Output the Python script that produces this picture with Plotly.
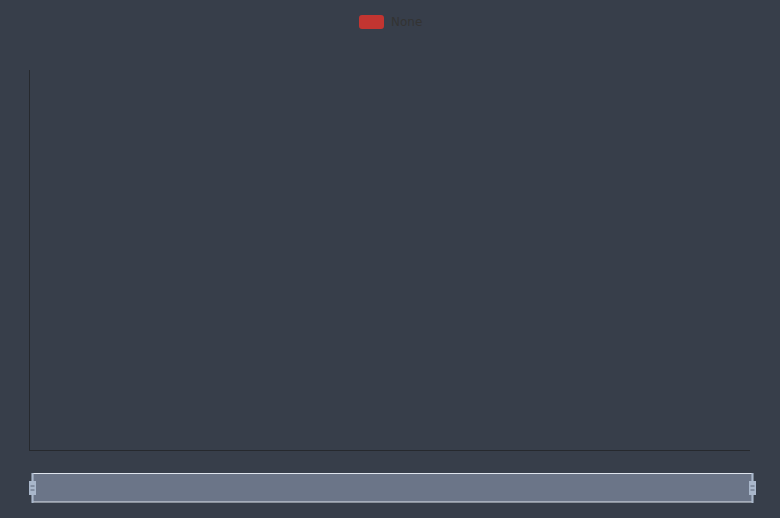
import plotly.graph_objects as go

# the series is empty in the reference: only the legend entry, axes and zoom bar show
series_name = "None"
categories = []
values = []

BG = "#373e4a"
RED = "#c23531"

W, H = 780, 518
L, R, T, B = 30, 30, 70, 68
pw, ph = W - L - R, H - T - B


def px_x(x):
    return (x - L) / pw


def px_y(y):
    return (H - B - y) / ph


def rounded_rect(x0, y0, x1, y1, r):
    # path in paper coords, corners given in pixels
    pts = [
        f"M {px_x(x0 + r)},{px_y(y0)}",
        f"L {px_x(x1 - r)},{px_y(y0)}",
        f"Q {px_x(x1)},{px_y(y0)} {px_x(x1)},{px_y(y0 + r)}",
        f"L {px_x(x1)},{px_y(y1 - r)}",
        f"Q {px_x(x1)},{px_y(y1)} {px_x(x1 - r)},{px_y(y1)}",
        f"L {px_x(x0 + r)},{px_y(y1)}",
        f"Q {px_x(x0)},{px_y(y1)} {px_x(x0)},{px_y(y1 - r)}",
        f"L {px_x(x0)},{px_y(y0 + r)}",
        f"Q {px_x(x0)},{px_y(y0)} {px_x(x0 + r)},{px_y(y0)} Z",
    ]
    return " ".join(pts)


fig = go.Figure()
fig.add_trace(go.Bar(x=categories, y=values, name=series_name,
                     marker_color=RED, showlegend=False))

shapes = []
# legend icon
shapes.append(dict(type="path", xref="paper", yref="paper",
                   path=rounded_rect(359, 15, 384, 29, 3),
                   fillcolor=RED, line=dict(width=0), layer="above"))
# data zoom slider body
shapes.append(dict(type="rect", xref="paper", yref="paper",
                   x0=px_x(32.5), x1=px_x(752.5), y0=px_y(502), y1=px_y(473.5),
                   fillcolor="#6b7588", line=dict(color="#dfe5ee", width=1.2)))
# slider handles
for hx in (32.5, 752.5):
    shapes.append(dict(type="line", xref="paper", yref="paper",
                       x0=px_x(hx), x1=px_x(hx), y0=px_y(503), y1=px_y(473),
                       line=dict(color="#a9b7cb", width=2)))
    shapes.append(dict(type="rect", xref="paper", yref="paper",
                       x0=px_x(hx - 3.5), x1=px_x(hx + 3.5), y0=px_y(495), y1=px_y(481),
                       fillcolor="#a9b7cb", line=dict(width=0)))
    for gy in (486, 490):
        shapes.append(dict(type="line", xref="paper", yref="paper",
                           x0=px_x(hx - 2), x1=px_x(hx + 2), y0=px_y(gy), y1=px_y(gy),
                           line=dict(color="#5d6678", width=1)))

fig.update_layout(
    width=W, height=H,
    margin=dict(l=L, r=R, t=T, b=B),
    paper_bgcolor=BG, plot_bgcolor=BG,
    font=dict(family="DejaVu Sans", size=12, color="#333"),
    showlegend=False,
    shapes=shapes,
    annotations=[dict(text=series_name, xref="paper", yref="paper",
                      x=px_x(389), y=px_y(22), xanchor="left", yanchor="middle",
                      showarrow=False, font=dict(size=12, color="#333"))],
)
fig.update_xaxes(showline=True, linecolor="#26292e", linewidth=1, showgrid=False,
                 zeroline=False, showticklabels=False, ticks="", fixedrange=True)
fig.update_yaxes(showline=True, linecolor="#26292e", linewidth=1, showgrid=False,
                 zeroline=False, showticklabels=False, ticks="", fixedrange=True)

fig.write_html("out.html", config={"displayModeBar": False},
               post_script="document.body.style.margin='0';")
